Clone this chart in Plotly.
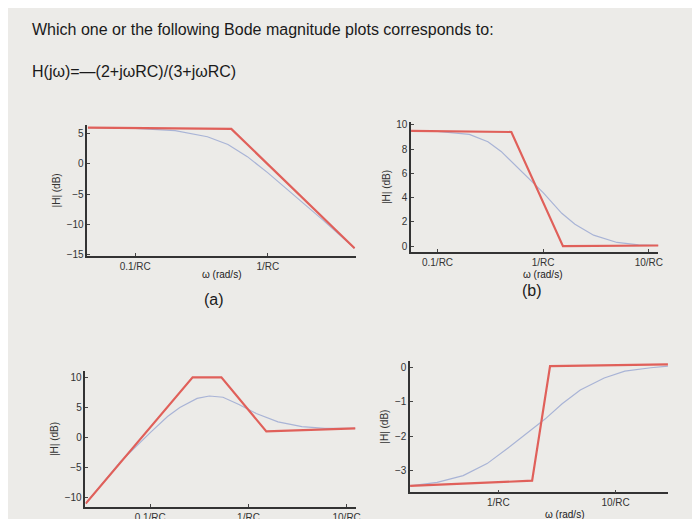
import plotly.graph_objects as go

# data (x in units of 1/RC)
a_red_x = [0.044, 0.53, 4.5]
a_red_y = [6.0, 5.8, -14.0]
a_blue_x = [0.044, 0.1, 0.2, 0.35, 0.5, 0.7, 1.0, 1.5, 2.5, 4.5]
a_blue_y = [6.0, 5.9, 5.5, 4.5, 3.2, 1.2, -1.5, -4.8, -9.0, -14.0]

b_red_x = [0.056, 0.50, 1.54, 12.4]
b_red_y = [9.5, 9.4, 0.0, 0.05]
b_blue_x = [0.056, 0.1, 0.2, 0.3, 0.4, 0.6, 0.8, 1.0, 1.5, 2.0, 3.0, 5.0, 8.0, 12.4]
b_blue_y = [9.5, 9.45, 9.2, 8.6, 7.8, 6.3, 5.2, 4.4, 2.7, 1.8, 0.9, 0.3, 0.1, 0.05]

c_red_x = [0.022, 0.27, 0.53, 1.52, 12.3]
c_red_y = [-11.0, 10.0, 10.0, 1.0, 1.5]
c_blue_x = [0.022, 0.05, 0.1, 0.15, 0.2, 0.3, 0.4, 0.55, 0.8, 1.2, 2.0, 3.5, 6.0, 12.3]
c_blue_y = [-11.0, -4.0, 0.8, 3.5, 5.0, 6.5, 6.9, 6.7, 5.5, 4.0, 2.6, 1.8, 1.5, 1.5]

d_red_x = [0.176, 1.94, 2.76, 28.0]
d_red_y = [-3.45, -3.3, 0.05, 0.1]
d_blue_x = [0.176, 0.3, 0.5, 0.8, 1.2, 1.7, 2.5, 3.5, 5.0, 8.0, 12.0, 20.0, 28.0]
d_blue_y = [-3.45, -3.35, -3.15, -2.8, -2.35, -1.95, -1.5, -1.05, -0.65, -0.3, -0.1, 0.0, 0.05]

xtick_vals = [0.1, 1, 10]
xtick_text = ["0.1/RC", "1/RC", "10/RC"]

W, H = 700, 519
panels = [
    ("", a_red_x, a_red_y, a_blue_x, a_blue_y, (80, 350), (116, 249), (-1.36, 0.66), (-15.3, 6.5), [-15, -10, -5, 0, 5]),
    ("2", b_red_x, b_red_y, b_blue_x, b_blue_y, (406, 655), (113, 245), (-1.25, 1.09), (-0.5, 10.25), [0, 2, 4, 6, 8, 10]),
    ("3", c_red_x, c_red_y, c_blue_x, c_blue_y, (78, 350), (365, 503), (-1.66, 1.09), (-11.6, 11.1), [-10, -5, 0, 5, 10]),
    ("4", d_red_x, d_red_y, d_blue_x, d_blue_y, (405, 665), (355, 488), (-0.754, 1.45), (-3.64, 0.2), [-3, -2, -1, 0]),
]

fig = go.Figure()
layout = {}
for n, rx, ry, bx, by, px, py, xr, yr, yt in panels:
    fig.add_trace(go.Scatter(x=bx, y=by, mode="lines", line=dict(color="#a9b4d6", width=1.2),
                             xaxis="x" + n, yaxis="y" + n, showlegend=False))
    fig.add_trace(go.Scatter(x=rx, y=ry, mode="lines", line=dict(color="#e0605a", width=2.2),
                             xaxis="x" + n, yaxis="y" + n, showlegend=False))
    layout["xaxis" + n] = dict(type="log", range=list(xr), domain=[px[0] / W, px[1] / W],
                               anchor="y" + n, tickvals=xtick_vals, ticktext=xtick_text,
                               showline=True, linecolor="#333", linewidth=1.5, ticks="inside", ticklen=3,
                               showgrid=False, zeroline=False, tickfont=dict(size=10, color="#333"))
    layout["yaxis" + n] = dict(range=list(yr), domain=[1 - py[1] / H, 1 - py[0] / H],
                               anchor="x" + n, tickvals=yt, showline=True, linecolor="#333", linewidth=1.5,
                               ticks="inside", ticklen=3, showgrid=False, zeroline=False,
                               tickfont=dict(size=10, color="#333"),
                               title=dict(text="|H| (dB)", font=dict(size=10, color="#333"), standoff=4))

anns = [
    dict(x=22, y=20, text="Which one or the following Bode magnitude plots corresponds to:", size=16, xa="left"),
    dict(x=22, y=62, text="H(jω)=—(2+jωRC)/(3+jωRC)", size=16, xa="left"),
    dict(x=215, y=268, text="ω (rad/s)", size=10, xa="center"),
    dict(x=207, y=293, text="(a)", size=16, xa="center"),
    dict(x=538, y=268, text="ω (rad/s)", size=10, xa="center"),
    dict(x=528, y=284, text="(b)", size=16, xa="center"),
    dict(x=560, y=510, text="ω (rad/s)", size=10, xa="center"),
]
annotations = [dict(x=a["x"] / W, y=1 - a["y"] / H, xref="paper", yref="paper", text=a["text"], showarrow=False,
                    xanchor=a["xa"], yanchor="middle", font=dict(size=a["size"], color="#1a1a1a")) for a in anns]

fig.update_layout(**layout, width=W, height=H, margin=dict(l=0, r=0, t=0, b=0),
                  paper_bgcolor="#ecebe8", plot_bgcolor="rgba(0,0,0,0)",
                  font=dict(family="Liberation Sans, Arial, sans-serif"), annotations=annotations)
fig.write_html("out.html")
